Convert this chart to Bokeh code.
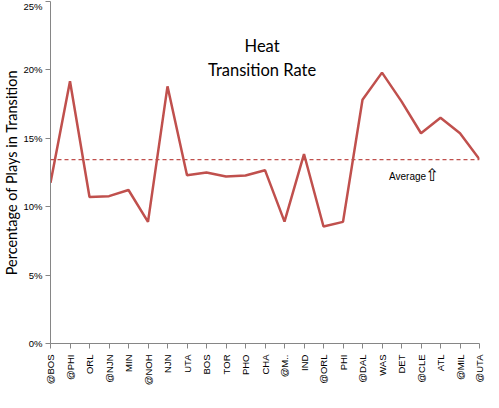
import math
from bokeh.plotting import figure
from bokeh.models import Range1d, FixedTicker, PrintfTickFormatter, Span, Label
from bokeh.embed import file_html
from bokeh.resources import INLINE

teams = ["@BOS", "@PHI", "ORL", "@NJN", "MIN", "@NOH", "NJN", "UTA", "BOS", "TOR",
         "PHO", "CHA", "@M..", "IND", "@ORL", "PHI", "@DAL", "WAS", "DET", "@CLE",
         "ATL", "@MIL", "@UTA"]
rate = [11.75, 19.17, 10.71, 10.77, 11.22, 8.89, 18.8, 12.3, 12.5, 12.21,
        12.28, 12.67, 8.91, 13.85, 8.55, 8.89, 17.82, 19.8, 17.7, 15.37,
        16.5, 15.37, 13.46]
average = 13.44
y_ticks = [0, 5, 10, 15, 20, 25]
title_lines = ["Heat", "Transition Rate"]

RED = "#C0504D"
AXIS_GREY = "#868686"

p = figure(width=491, height=400, output_backend="svg", toolbar_location=None,
           x_range=Range1d(0, len(teams) - 1), y_range=Range1d(0, 25),
           min_border_left=43, min_border_right=12, min_border_top=1,
           min_border_bottom=57)
p.outline_line_color = None
p.xgrid.visible = False
p.ygrid.visible = False

xs = list(range(len(teams)))
p.line(xs, rate, line_color=RED, line_width=2.5)

p.add_layout(Span(location=average, dimension="width", line_color=RED,
                  line_width=1.2, line_dash="4 3"))

# axes
p.xaxis.ticker = FixedTicker(ticks=xs)
p.xaxis.major_label_overrides = {i: t for i, t in enumerate(teams)}
p.xaxis.major_label_orientation = math.pi / 2
p.yaxis.ticker = FixedTicker(ticks=y_ticks)
p.yaxis.formatter = PrintfTickFormatter(format="%d%%")
for ax in (p.xaxis[0], p.yaxis[0]):
    ax.axis_line_color = AXIS_GREY
    ax.major_tick_line_color = AXIS_GREY
    ax.minor_tick_line_color = None
    ax.major_tick_out = 5
    ax.major_tick_in = 0
    ax.major_label_text_font = "Liberation Sans"
    ax.major_label_text_color = "black"
p.xaxis.major_label_text_font_size = "9.5px"
p.yaxis.major_label_text_font_size = "9.5px"
p.xaxis.major_label_standoff = 6
p.yaxis.major_label_standoff = 3
p.yaxis.axis_label = "Percentage of Plays in Transition"
p.yaxis.axis_label_text_font = "Lato"
p.yaxis.axis_label_text_font_style = "normal"
p.yaxis.axis_label_text_font_size = "14.5px"
p.yaxis.axis_label_standoff = 0
p.yaxis.axis_label_text_color = "black"

# title
p.add_layout(Label(x=10.85, y=21.75, text=title_lines[0], text_align="center",
                   text_baseline="alphabetic", text_font="Lato",
                   text_font_size="16.5px", text_color="black"))
p.add_layout(Label(x=10.85, y=20.0, text=title_lines[1], text_align="center",
                   text_baseline="alphabetic", text_font="Lato",
                   text_font_size="16.5px", text_color="black"))

# average annotation
p.add_layout(Label(x=17.36, y=12.2, text="Average", text_align="left",
                   text_baseline="alphabetic", text_font="Liberation Sans",
                   text_font_size="10px", text_color="black"))
p.add_layout(Label(x=19.2, y=12.3, text="\u21E7", text_align="left",
                   text_baseline="alphabetic", text_font="DejaVu Sans",
                   text_font_size="17px", text_color="black"))

open("out.html", "w").write(file_html(p, INLINE))
